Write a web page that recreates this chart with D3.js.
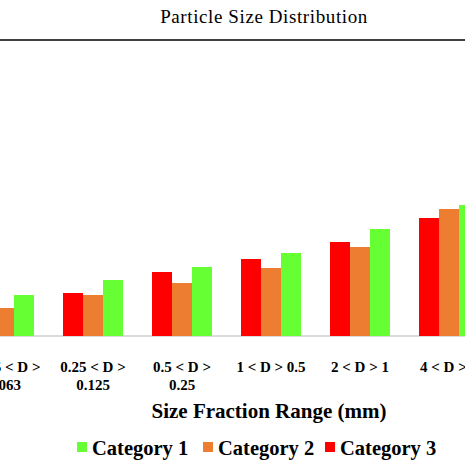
<!DOCTYPE html>
<html><head><meta charset="utf-8">
<script src="https://cdn.jsdelivr.net/npm/d3@7"></script>
<style>body{margin:0;background:#fff}svg{display:block}text{font-family:"Liberation Serif","Times New Roman",serif}</style>
</head><body>
<script>
const categories = ["0.125 < D >|0.063","0.25 < D >|0.125","0.5 < D >|0.25","1 < D > 0.5","2 < D > 1","4  < D > 2"];
const category3 = [30,43,64,77,94,118];
const category2 = [28,41,53,68,89,127];
const category1 = [41,56,69,83,107,131];
const seriesNames = ["Category 3","Category 2","Category 1"];
const colors = {"Category 1":"#66ff33","Category 2":"#ed7d31","Category 3":"#ff0000"};
const data = categories.map((c,i)=>({c, "Category 3":category3[i],"Category 2":category2[i],"Category 1":category1[i]}));

const W=465,H=465;
const svg=d3.select("body").append("svg").attr("width",W).attr("height",H);
svg.append("text").attr("x",264).attr("y",23).attr("text-anchor","middle").attr("font-size",19).attr("letter-spacing",0.6).text("Particle Size Distribution");
svg.append("line").attr("x1",0).attr("x2",W).attr("y1",40).attr("y2",40).attr("stroke","#000").attr("stroke-width",1.5);

const x=d3.scaleBand().domain(categories).range([-40.5,493.5]).padding(0);
const xs=d3.scaleBand().domain(seriesNames).range([x.bandwidth()/2-30,x.bandwidth()/2+30]);
const y=d3.scaleLinear().domain([0,150]).range([336,186]);

svg.append("line").attr("x1",0).attr("x2",W).attr("y1",y(0)).attr("y2",y(0)).attr("stroke","#d0d0d0").attr("stroke-width",1.5);

const g=svg.selectAll("g.grp").data(data).enter().append("g").attr("transform",d=>`translate(${x(d.c)},0)`);
g.selectAll("rect").data(d=>seriesNames.map(s=>({s,v:d[s]}))).enter().append("rect")
 .attr("x",d=>xs(d.s)).attr("width",xs.bandwidth()).attr("y",d=>y(d.v)).attr("height",d=>y(0)-y(d.v)).attr("fill",d=>colors[d.s]);

categories.forEach(c=>{
  const cx=x(c)+x.bandwidth()/2;
  c.split("|").forEach((t,i)=>svg.append("text").attr("x",cx).attr("y",372+i*18).attr("text-anchor","middle").attr("font-size",15).attr("font-weight","bold").text(t));
});
svg.append("text").attr("x",269).attr("y",418).attr("text-anchor","middle").attr("font-size",21).attr("font-weight","bold").text("Size Fraction Range (mm)");

const leg=[["Category 1",77],["Category 2",203],["Category 3",325]];
leg.forEach(([s,lx])=>{
  svg.append("rect").attr("x",lx).attr("y",442).attr("width",10).attr("height",10).attr("fill",colors[s]);
  svg.append("text").attr("x",lx+15).attr("y",455).attr("font-size",20.5).attr("font-weight","bold").text(s);
});
</script>
</body></html>
